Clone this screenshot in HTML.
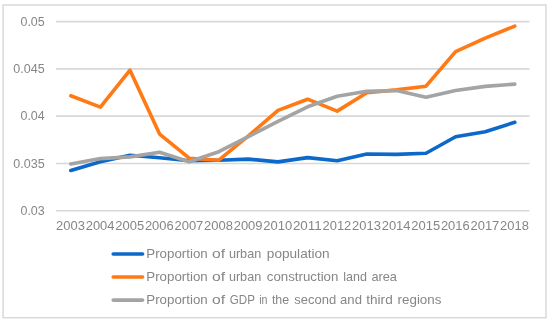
<!DOCTYPE html>
<html><head><meta charset="utf-8"><title>Chart</title>
<style>
html,body{margin:0;padding:0;background:#fff;}
body{width:550px;height:322px;overflow:hidden;}
svg{display:block;font-family:"Liberation Sans","Noto Sans CJK SC",sans-serif;}
.t{fill:#868686;font-size:13.4px;}
.g{stroke:#d8d8d8;stroke-width:1.7;}
.l{fill:none;stroke-width:3.6;stroke-linecap:round;stroke-linejoin:round;}
</style></head><body>
<svg width="550" height="322" viewBox="0 0 550 322">
<rect x="0" y="0" width="550" height="322" fill="#ffffff"/>
<rect x="3.1" y="5" width="542.9" height="312.7" fill="#ffffff" stroke="#d9d9d9" stroke-width="1.5"/>
<line class="g" x1="56" y1="21.7" x2="529.5" y2="21.7"/>
<line class="g" x1="56" y1="68.95" x2="529.5" y2="68.95"/>
<line class="g" x1="56" y1="116.2" x2="529.5" y2="116.2"/>
<line class="g" x1="56" y1="163.5" x2="529.5" y2="163.5"/>
<line class="g" x1="56" y1="210.75" x2="529.5" y2="210.75"/>
<text class="t" x="20.5" y="25.8" textLength="24.2" lengthAdjust="spacingAndGlyphs">0.05</text>
<text class="t" x="13.3" y="73.0" textLength="31.4" lengthAdjust="spacingAndGlyphs">0.045</text>
<text class="t" x="20.5" y="120.3" textLength="24.2" lengthAdjust="spacingAndGlyphs">0.04</text>
<text class="t" x="13.3" y="167.6" textLength="31.4" lengthAdjust="spacingAndGlyphs">0.035</text>
<text class="t" x="20.5" y="214.8" textLength="24.2" lengthAdjust="spacingAndGlyphs">0.03</text>
<text class="t" x="56.1" y="230.1" textLength="28.8" lengthAdjust="spacingAndGlyphs">2003</text>
<text class="t" x="85.7" y="230.1" textLength="28.8" lengthAdjust="spacingAndGlyphs">2004</text>
<text class="t" x="115.3" y="230.1" textLength="28.8" lengthAdjust="spacingAndGlyphs">2005</text>
<text class="t" x="144.9" y="230.1" textLength="28.8" lengthAdjust="spacingAndGlyphs">2006</text>
<text class="t" x="174.5" y="230.1" textLength="28.8" lengthAdjust="spacingAndGlyphs">2007</text>
<text class="t" x="204.1" y="230.1" textLength="28.8" lengthAdjust="spacingAndGlyphs">2008</text>
<text class="t" x="233.7" y="230.1" textLength="28.8" lengthAdjust="spacingAndGlyphs">2009</text>
<text class="t" x="263.3" y="230.1" textLength="28.8" lengthAdjust="spacingAndGlyphs">2010</text>
<text class="t" x="292.9" y="230.1" textLength="28.8" lengthAdjust="spacingAndGlyphs">2011</text>
<text class="t" x="322.5" y="230.1" textLength="28.8" lengthAdjust="spacingAndGlyphs">2012</text>
<text class="t" x="352.1" y="230.1" textLength="28.8" lengthAdjust="spacingAndGlyphs">2013</text>
<text class="t" x="381.7" y="230.1" textLength="28.8" lengthAdjust="spacingAndGlyphs">2014</text>
<text class="t" x="411.3" y="230.1" textLength="28.8" lengthAdjust="spacingAndGlyphs">2015</text>
<text class="t" x="440.9" y="230.1" textLength="28.8" lengthAdjust="spacingAndGlyphs">2016</text>
<text class="t" x="470.5" y="230.1" textLength="28.8" lengthAdjust="spacingAndGlyphs">2017</text>
<text class="t" x="500.1" y="230.1" textLength="28.8" lengthAdjust="spacingAndGlyphs">2018</text>
<polyline class="l" stroke="#0d69c9" points="70.8,170.5 100.4,161.8 130.0,155.3 159.6,157.7 189.2,160.8 218.8,160.2 248.4,159.1 278.0,161.9 307.6,157.6 337.2,160.7 366.8,154.0 396.4,154.4 426.0,153.2 455.6,136.7 485.2,131.7 514.8,122.3"/>
<polyline class="l" stroke="#ff7915" points="70.8,95.8 100.4,107.1 130.0,70.2 159.6,134.1 189.2,158.2 218.8,160.2 248.4,135.9 278.0,110.4 307.6,99.2 337.2,111.1 366.8,92.8 396.4,89.9 426.0,86.2 455.6,51.6 485.2,38.2 514.8,26.1"/>
<polyline class="l" stroke="#a4a4a4" points="70.8,164.0 100.4,158.6 130.0,156.9 159.6,152.3 189.2,161.8 218.8,151.7 248.4,136.7 278.0,121.3 307.6,106.8 337.2,96.2 366.8,91.3 396.4,90.6 426.0,97.2 455.6,90.5 485.2,86.4 514.8,84.1"/>
<line class="l" stroke="#0d69c9" x1="113.2" y1="254.0" x2="142.6" y2="254.0"/>
<text class="t" y="258.0"><tspan x="146.3" textLength="61.4" lengthAdjust="spacingAndGlyphs">Proportion</tspan> <tspan x="212.1" textLength="13.1" lengthAdjust="spacingAndGlyphs">of</tspan> <tspan x="228.9" textLength="32.3" lengthAdjust="spacingAndGlyphs">urban</tspan> <tspan x="266.8" textLength="62.9" lengthAdjust="spacingAndGlyphs">population</tspan></text>
<line class="l" stroke="#ff7915" x1="113.2" y1="277.05" x2="142.6" y2="277.05"/>
<text class="t" y="281.1"><tspan x="146.3" textLength="61.4" lengthAdjust="spacingAndGlyphs">Proportion</tspan> <tspan x="212.1" textLength="13.1" lengthAdjust="spacingAndGlyphs">of</tspan> <tspan x="228.9" textLength="32.3" lengthAdjust="spacingAndGlyphs">urban</tspan> <tspan x="266.8" textLength="71.6" lengthAdjust="spacingAndGlyphs">construction</tspan> <tspan x="343.3" textLength="23.7" lengthAdjust="spacingAndGlyphs">land</tspan> <tspan x="371.4" textLength="25.6" lengthAdjust="spacingAndGlyphs">area</tspan></text>
<line class="l" stroke="#a4a4a4" x1="113.2" y1="300.1" x2="142.6" y2="300.1"/>
<text class="t" y="304.1"><tspan x="146.3" textLength="61.4" lengthAdjust="spacingAndGlyphs">Proportion</tspan> <tspan x="212.1" textLength="13.1" lengthAdjust="spacingAndGlyphs">of</tspan> <tspan x="229.8" textLength="25.0" lengthAdjust="spacingAndGlyphs">GDP</tspan> <tspan x="259.2" textLength="8.3" lengthAdjust="spacingAndGlyphs">in</tspan> <tspan x="271.9" textLength="17.3" lengthAdjust="spacingAndGlyphs">the</tspan> <tspan x="294.3" textLength="41.9" lengthAdjust="spacingAndGlyphs">second</tspan> <tspan x="340.1" textLength="21.8" lengthAdjust="spacingAndGlyphs">and</tspan> <tspan x="366.3" textLength="26.4" lengthAdjust="spacingAndGlyphs">third</tspan> <tspan x="397.6" textLength="43.8" lengthAdjust="spacingAndGlyphs">regions</tspan></text>
</svg></body></html>
